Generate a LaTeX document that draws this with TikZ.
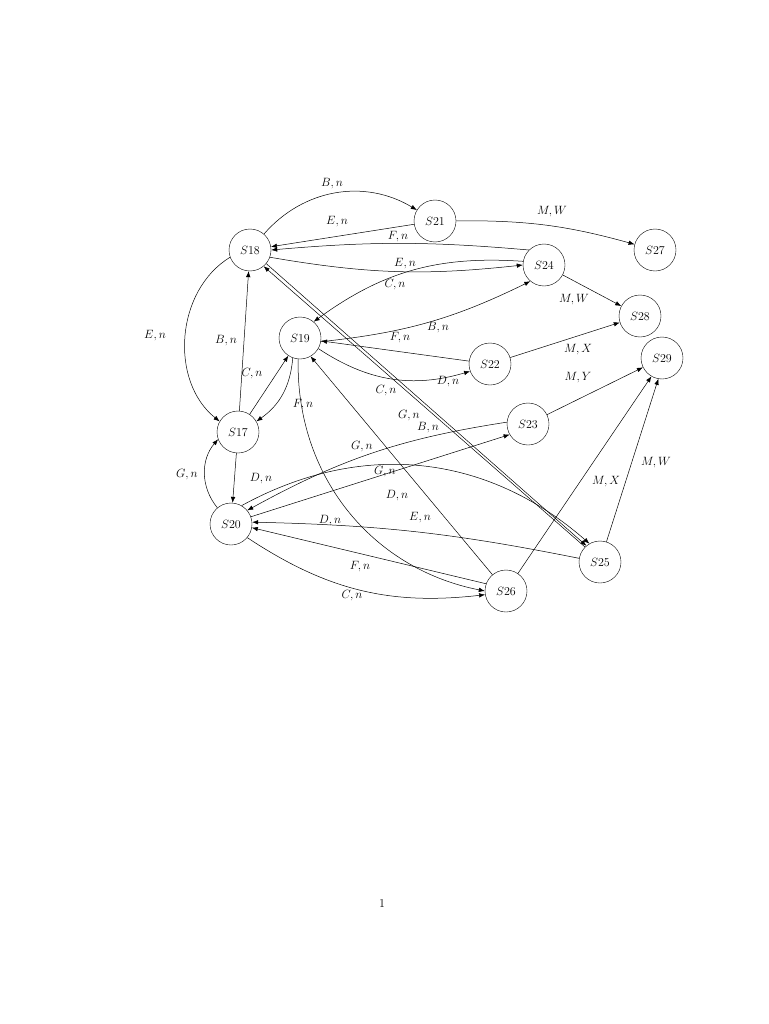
\documentclass[tikz,border=0pt]{standalone}
\usetikzlibrary{arrows.meta}
\begin{document}
\begin{tikzpicture}[x=1pt,y=-1pt,
  st/.style={draw,circle,minimum size=42pt,inner sep=0pt,font=\fontsize{12}{14}\selectfont},
  lb/.style={font=\fontsize{12}{14}\selectfont,inner sep=1pt},
  ed/.style={-{Latex[length=6pt,width=4.5pt]},line width=0.5pt}]
\useasboundingbox (0,0) rectangle (768,1024);
\node[st] (S18) at (250,250) {$S18$};
\node[st] (S21) at (435,221) {$S21$};
\node[st] (S27) at (655,250) {$S27$};
\node[st] (S24) at (544,265) {$S24$};
\node[st] (S28) at (640,316) {$S28$};
\node[st] (S19) at (300,338) {$S19$};
\node[st] (S22) at (490,364) {$S22$};
\node[st] (S29) at (662,358) {$S29$};
\node[st] (S23) at (528,424) {$S23$};
\node[st] (S17) at (238,432) {$S17$};
\node[st] (S20) at (231,524) {$S20$};
\node[st] (S25) at (600,562) {$S25$};
\node[st] (S26) at (506,591) {$S26$};
% edges
\draw[ed] (S18) to[bend left=40] (S21);
\draw[ed] (S21) -- (S18);
\draw[ed] (S24.north west) to[bend right=5] (S18.east);
\draw[ed] (S18.-20) to[bend right=8] (S24.west);
\draw[ed] (S24.170) to[bend right=20] (S19.50);
\draw[ed] (S19.-10) to[bend right=10] (S24.230);
\draw[ed] (S22) -- (S19);
\draw[ed] (S19.-30) to[bend right=25] (S22.200);
\draw[ed] (S21) to[bend left=8] (S27);
\draw[ed] (S24) -- (S28);
\draw[ed] (S22) -- (S28);
\draw[ed] (S23) -- (S29);
\draw[ed] (S25) -- (S29.260);
\draw[ed] (S26) -- (S29.240);
\draw[ed] (S18.200) to[bend right=55] (S17.150);
\draw[ed] (S17) -- (S18);
\draw[ed] (S17) -- (S19);
\draw[ed] (S19.250) to[bend left=25] (S17.30);
\draw[ed] (S20.130) to[bend left=40] (S17.200);
\draw[ed] (S17) -- (S20);
\draw[ed] (S25.135) -- (S18.-50);
\draw[ed] (S18.-40) -- (S25.130);
\draw[ed] (S20.60) to[bend left=35] (S25.120);
\draw[ed] (S23.175) to[bend right=10] (S20.40);
\draw[ed] (S20.20) -- (S23.210);
\draw[ed] (S25.170) to[bend right=5] (S20.5);
\draw[ed] (S26) -- (S19.-60);
\draw[ed] (S19.265) to[bend right=40] (S26.180);
\draw[ed] (S26.160) -- (S20.-10);
\draw[ed] (S20.-40) to[bend right=20] (S26.190);
% labels
\node[lb] (l1) at (332,184) {$B,n$};
\node[lb] (l2) at (337,222) {$E,n$};
\node[lb] (l3) at (398,237) {$F,n$};
\node[lb] (l4) at (405,264) {$E,n$};
\node[lb] (l5) at (395,285) {$C,n$};
\node[lb] (l6) at (438,328) {$B,n$};
\node[lb] (l7) at (400,338) {$F,n$};
\node[lb] (l8) at (448,382) {$D,n$};
\node[lb] (l9) at (552,212) {$M,W$};
\node[lb] (l10) at (574,300) {$M,W$};
\node[lb] (l11) at (578,350) {$M,X$};
\node[lb] (l12) at (578,378) {$M,Y$};
\node[lb] (l13) at (656,463) {$M,W$};
\node[lb] (l14) at (606,482) {$M,X$};
\node[lb] (l15) at (155,336) {$E,n$};
\node[lb] (l16) at (226,341) {$B,n$};
\node[lb] (l17) at (252,374) {$C,n$};
\node[lb] (l18) at (303,405) {$F,n$};
\node[lb] (l19) at (187,475) {$G,n$};
\node[lb] (l20) at (261,479) {$D,n$};
\node[lb] (l21) at (386,391) {$C,n$};
\node[lb] (l22) at (409,416) {$G,n$};
\node[lb] (l23) at (428,428) {$B,n$};
\node[lb] (l24) at (362,447) {$G,n$};
\node[lb] (l25) at (385,472) {$G,n$};
\node[lb] (l26) at (397,496) {$D,n$};
\node[lb] (l27) at (330,521) {$D,n$};
\node[lb] (l28) at (420,518) {$E,n$};
\node[lb] (l29) at (360,567) {$F,n$};
\node[lb] (l30) at (352,596) {$C,n$};
\node[lb] (pg) at (382,903) {1};
\end{tikzpicture}
\end{document}
